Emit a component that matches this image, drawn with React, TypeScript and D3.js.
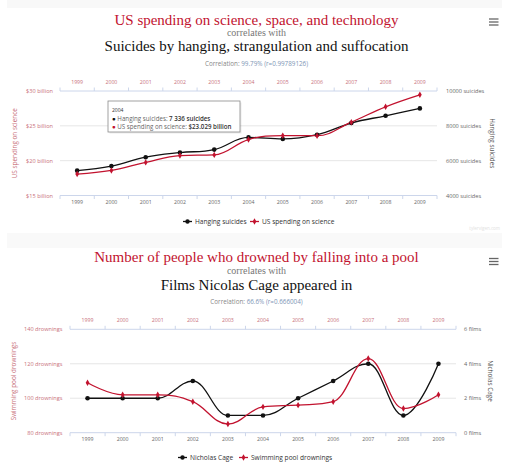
import React from "react";
import * as d3 from "d3";

const years = ["1999","2000","2001","2002","2003","2004","2005","2006","2007","2008","2009"];
const scienceSpending = [18.079,18.594,19.753,20.734,20.831,23.029,23.597,23.584,25.525,27.731,29.449];
const hangingSuicides = [5427,5688,6198,6462,6635,7336,7248,7491,8161,8578,9000];
const spendingTicks = [15,20,25,30];
const suicideTicks = [4000,6000,8000,10000];

const cageFilms = [2,2,2,3,1,1,2,3,4,1,4];
const poolDrownings = [109,102,102,98,85,95,96,98,123,94,102];
const drowningTicks = [80,100,120,140];
const filmTicks = [0,2,4,6];

const RED = "#c2132f";
const RED_LABEL = "#c8707a";
const GRAY_LABEL = "#666666";
const AXIS_LINE = "#ccd6eb";
const GRID = "#e6e6e6";
const SANS = "'Open Sans', 'Noto Sans', sans-serif";
const SERIF = "'Liberation Serif', 'DejaVu Serif', serif";

// Highcharts-style spline as a d3 curve
class HCSpline {
  constructor(ctx) { this.ctx = ctx; this.xs = []; this.ys = []; }
  areaStart() {}
  areaEnd() {}
  lineStart() { this.xs = []; this.ys = []; }
  point(x, y) { this.xs.push(+x); this.ys.push(+y); }
  lineEnd() {
    const xs = this.xs, ys = this.ys, n = xs.length, ctx = this.ctx;
    if (!n) return;
    const s = 1.5, dn = 2.5;
    ctx.moveTo(xs[0], ys[0]);
    let prevRight = null;
    for (let i = 1; i < n; i++) {
      const x = xs[i], y = ys[i];
      let lcx = x, lcy = y, rc = null;
      if (i < n - 1) {
        const lx = xs[i - 1], ly = ys[i - 1], nx = xs[i + 1], ny = ys[i + 1];
        lcx = (s * x + lx) / dn; lcy = (s * y + ly) / dn;
        let rcx = (s * x + nx) / dn, rcy = (s * y + ny) / dn;
        let corr = 0;
        if (rcx !== lcx) corr = ((rcy - lcy) * (rcx - x)) / (rcx - lcx) + y - rcy;
        lcy += corr; rcy += corr;
        if (lcy > ly && lcy > y) { lcy = Math.max(ly, y); rcy = 2 * y - lcy; }
        else if (lcy < ly && lcy < y) { lcy = Math.min(ly, y); rcy = 2 * y - lcy; }
        if (rcy > ny && rcy > y) { rcy = Math.max(ny, y); lcy = 2 * y - rcy; }
        else if (rcy < ny && rcy < y) { rcy = Math.min(ny, y); lcy = 2 * y - rcy; }
        rc = [rcx, rcy];
      }
      const c1 = prevRight || [xs[i - 1], ys[i - 1]];
      ctx.bezierCurveTo(c1[0], c1[1], lcx, lcy, x, y);
      prevRight = rc;
    }
  }
}
const curveHC = (ctx) => new HCSpline(ctx);

const diamond = d3.symbol().type(d3.symbolDiamond).size(12)();

function Chart(props) {
  const { xRange, yTop, yBottom, title1, title2, corr, leftDomain, leftTicks, leftFmt,
    rightDomain, rightTicks, rightFmt, leftX, rightX, leftTitle, leftTitleX, rightTitle, rightTitleX,
    blackVals, redVals, redOnLeft, legendY, legendBlack, legendRed, legendX, titleYs, menuY, tooltip } = props;
  const x = d3.scaleBand().domain(years).range(xRange);
  const yL = d3.scaleLinear().domain(leftDomain).range([yBottom, yTop]);
  const yR = d3.scaleLinear().domain(rightDomain).range([yBottom, yTop]);
  const cx = (yr) => x(yr) + x.bandwidth() / 2;
  const yBlack = redOnLeft ? yR : yL;
  const yRed = redOnLeft ? yL : yR;
  const line = (ys) => d3.line().x((d, i) => cx(years[i])).y((d) => ys(d)).curve(curveHC);
  const tickXs = years.map((yr) => x(yr)).concat([xRange[1]]);
  const midY = (yTop + yBottom) / 2;
  return (
    <g>
      <text x={256.5} y={titleYs[0]} textAnchor="middle" fontFamily={SERIF} fontSize={15} fill={RED}>{title1}</text>
      <text x={256.5} y={titleYs[1]} textAnchor="middle" fontFamily={SERIF} fontSize={10} fill="#777">correlates with</text>
      <text x={256.5} y={titleYs[2]} textAnchor="middle" fontFamily={SERIF} fontSize={15} fill="#111">{title2}</text>
      <text x={256.5} y={titleYs[3]} textAnchor="middle" fontFamily={SANS} fontSize={6.3} fill="#888">
        Correlation: <tspan fill="#7d95b5">{corr}</tspan>
      </text>
      {[0, 3, 6].map((o) => (
        <line key={o} x1={489} x2={498.5} y1={menuY + o} y2={menuY + o} stroke="#666" strokeWidth={1.3} />
      ))}
      {leftTicks.filter((t, i) => i > 0 && i < leftTicks.length - 1).map((t) => (
        <line key={t} x1={xRange[0]} x2={xRange[1]} y1={yL(t)} y2={yL(t)} stroke={GRID} strokeWidth={1} />
      ))}
      <line x1={xRange[0]} x2={xRange[1]} y1={yTop} y2={yTop} stroke={AXIS_LINE} strokeWidth={1} />
      <line x1={xRange[0]} x2={xRange[1]} y1={yBottom} y2={yBottom} stroke={AXIS_LINE} strokeWidth={1} />
      {tickXs.map((tx, i) => (
        <g key={i}>
          <line x1={tx} x2={tx} y1={yTop} y2={yTop - 3.5} stroke={AXIS_LINE} strokeWidth={1} />
          <line x1={tx} x2={tx} y1={yBottom} y2={yBottom + 3.5} stroke={AXIS_LINE} strokeWidth={1} />
        </g>
      ))}
      {years.map((yr) => (
        <g key={yr}>
          <text x={cx(yr)} y={yTop - 7} textAnchor="middle" fontFamily={SANS} fontSize={5.2} fill={RED_LABEL}>{yr}</text>
          <text x={cx(yr)} y={yBottom + 8.5} textAnchor="middle" fontFamily={SANS} fontSize={5.2} fill={GRAY_LABEL}>{yr}</text>
        </g>
      ))}
      {leftTicks.map((t) => (
        <text key={t} x={leftX} y={yL(t) + 2} textAnchor="end" fontFamily={SANS} fontSize={5.6} fill={RED_LABEL}>{leftFmt(t)}</text>
      ))}
      {rightTicks.map((t) => (
        <text key={t} x={rightX} y={yR(t) + 2} textAnchor="start" fontFamily={SANS} fontSize={5.6} fill={GRAY_LABEL}>{rightFmt(t)}</text>
      ))}
      <text transform={`translate(${leftTitleX},${midY}) rotate(-90)`} textAnchor="middle" fontFamily={SANS} fontSize={6.4} fill={RED_LABEL}>{leftTitle}</text>
      <text transform={`translate(${rightTitleX},${midY}) rotate(90)`} textAnchor="middle" fontFamily={SANS} fontSize={6.4} fill="#555">{rightTitle}</text>
      <path d={line(yBlack)(blackVals)} fill="none" stroke="#111" strokeWidth={1.3} />
      <path d={line(yRed)(redVals)} fill="none" stroke={RED} strokeWidth={1.3} />
      {blackVals.map((v, i) => (
        <circle key={i} cx={cx(years[i])} cy={yBlack(v)} r={2.3} fill="#111" />
      ))}
      {redVals.map((v, i) => (
        <path key={i} d={diamond} transform={`translate(${cx(years[i])},${yRed(v)})`} fill={RED} />
      ))}
      <g>
        <line x1={legendX[0]} x2={legendX[0] + 9} y1={legendY} y2={legendY} stroke="#111" strokeWidth={1.3} />
        <circle cx={legendX[0] + 4.5} cy={legendY} r={2.2} fill="#111" />
        <text x={legendX[0] + 12} y={legendY + 2.2} fontFamily={SANS} fontSize={6.6} fill="#333">{legendBlack}</text>
        <line x1={legendX[1]} x2={legendX[1] + 9} y1={legendY} y2={legendY} stroke={RED} strokeWidth={1.3} />
        <path d={diamond} transform={`translate(${legendX[1] + 4.5},${legendY})`} fill={RED} />
        <text x={legendX[1] + 12} y={legendY + 2.2} fontFamily={SANS} fontSize={6.6} fill="#333">{legendRed}</text>
      </g>
      {tooltip ? (
        <g>
          <rect x={109.5} y={102.5} width={132} height={31} fill="rgba(0,0,0,0.08)" />
          <rect x={108} y={101} width={132} height={31} fill="#ffffff" stroke="#8a8a8a" strokeWidth={0.8} />
          <text x={112} y={112} fontFamily={SANS} fontSize={5} fill="#333">{tooltip.year}</text>
          <text x={112} y={120.5} fontFamily={SANS} fontSize={6.2} fill="#666">
            <tspan fill="#111">●</tspan> Hanging suicides: <tspan fill="#333" fontWeight="600">{tooltip.black}</tspan>
          </text>
          <text x={112} y={128.5} fontFamily={SANS} fontSize={6.2} fill="#666">
            <tspan fill={RED}>●</tspan> US spending on science: <tspan fill="#333" fontWeight="600">{tooltip.red}</tspan>
          </text>
        </g>
      ) : null}
    </g>
  );
}

export default function App() {
  const fmtSpend = (t) => `$${t} billion`;
  const fmtSuic = (t) => `${t} suicides`;
  const fmtDrown = (t) => `${t} drownings`;
  const fmtFilms = (t) => `${t} films`;
  return (
    <div style={{ position: "absolute", left: 0, top: 0 }}>
      <svg width={513} height={470} style={{ display: "block", background: "#fff" }}>
        <rect x={7} y={0} width={495} height={8} fill="#f8f8f8" />
        <rect x={7} y={233} width={495} height={15} fill="#f9f9f9" />
        <Chart
          xRange={[60, 437]} yTop={91} yBottom={195.5}
          title1="US spending on science, space, and technology"
          title2="Suicides by hanging, strangulation and suffocation"
          corr="99.79% (r=0.99789126)"
          titleYs={[24.5, 35.5, 51, 66]}
          menuY={19}
          leftDomain={[15, 30]} leftTicks={spendingTicks} leftFmt={fmtSpend}
          rightDomain={[4000, 10000]} rightTicks={suicideTicks} rightFmt={fmtSuic}
          leftX={53} rightX={446}
          leftTitle="US spending on science" leftTitleX={17}
          rightTitle="Hanging suicides" rightTitleX={490}
          blackVals={hangingSuicides} redVals={scienceSpending} redOnLeft={true}
          legendY={221.5} legendBlack="Hanging suicides" legendRed="US spending on science"
          legendX={[183, 250]}
          tooltip={{ year: "2004", black: "7 336 suicides", red: "$23.029 billion" }}
        />
        <Chart
          xRange={[70, 456]} yTop={329.3} yBottom={432.7}
          title1="Number of people who drowned by falling into a pool"
          title2="Films Nicolas Cage appeared in"
          corr="66.6% (r=0.666004)"
          titleYs={[262, 273.5, 289.5, 304]}
          menuY={258.5}
          leftDomain={[80, 140]} leftTicks={drowningTicks} leftFmt={fmtDrown}
          rightDomain={[0, 6]} rightTicks={filmTicks} rightFmt={fmtFilms}
          leftX={62.5} rightX={464}
          leftTitle="Swimming pool drownings" leftTitleX={16}
          rightTitle="Nicholas Cage" rightTitleX={488}
          blackVals={cageFilms} redVals={poolDrownings} redOnLeft={true}
          legendY={457.5} legendBlack="Nicholas Cage" legendRed="Swimming pool drownings"
          legendX={[178, 239]}
          tooltip={null}
        />
        <text x={500} y={230} textAnchor="end" fontFamily={SANS} fontSize={4.5} fill="#e2e2e2">tylervigen.com</text>
      </svg>
    </div>
  );
}
